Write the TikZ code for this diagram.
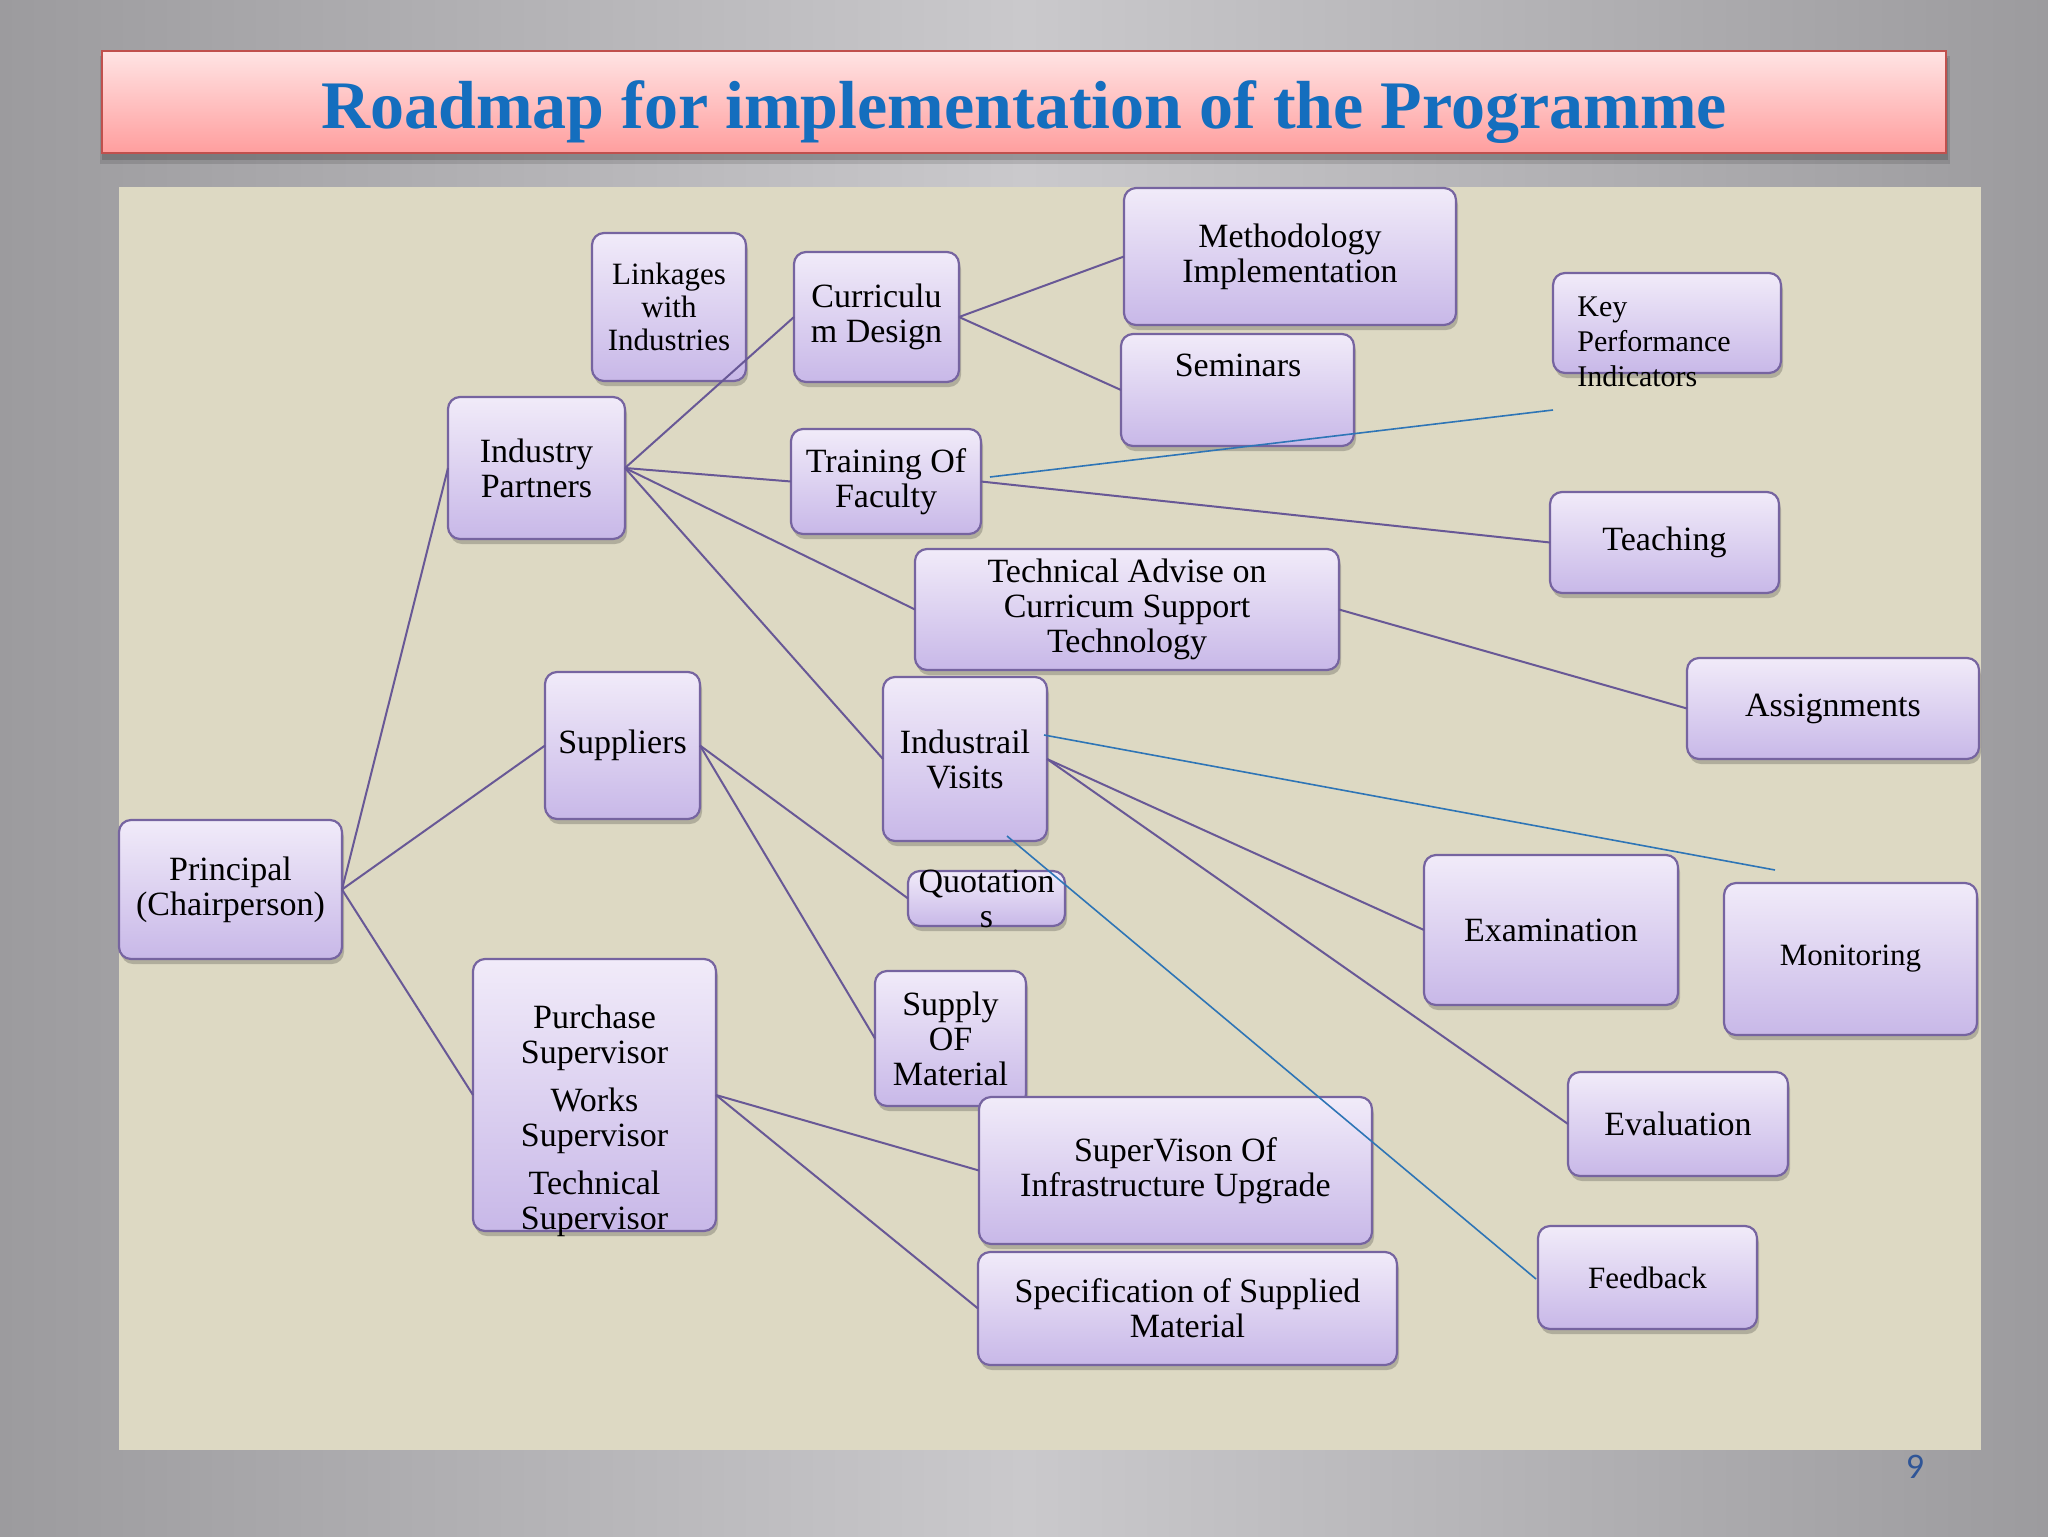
\documentclass[tikz,border=0pt]{standalone}
\usepackage{fontspec}
\setmainfont{Liberation Serif}
\newfontfamily\numfont{Carlito}
\definecolor{bgin}{RGB}{202,201,204}
\definecolor{bgout}{RGB}{156,155,158}
\definecolor{panelc}{RGB}{221,217,195}
\definecolor{ttop}{RGB}{255,228,228}
\definecolor{tbot}{RGB}{255,158,158}
\definecolor{tborder}{RGB}{192,80,77}
\definecolor{tblue}{RGB}{20,110,190}
\definecolor{btop}{RGB}{241,235,249}
\definecolor{bbot}{RGB}{200,184,232}
\definecolor{bborder}{RGB}{118,100,160}
\definecolor{connc}{RGB}{104,88,150}
\definecolor{blinec}{RGB}{46,117,182}
\definecolor{pnumc}{RGB}{47,85,151}
\tikzset{
 pbox/.style={rounded corners=6pt, draw=bborder, line width=1.1pt, top color=btop, bottom color=bbot, inner sep=0pt, outer sep=0pt},
 pshadow/.style={rounded corners=6pt, fill=black, fill opacity=0.2, draw=none},
 ptxt/.style={inner sep=0pt, align=center, font=\fontsize{17}{17.5}\selectfont},
 conline/.style={draw=connc, line width=1pt},
 blueline/.style={draw=blinec, line width=0.8pt},
}
\newcommand\pbxe[5]{%
 \fill[pshadow] ({#2+2},{#3+5}) rectangle ({#4+2},{#5+5});
 \node[pbox, minimum width={(#4-#2)*0.5pt}, minimum height={(#5-#3)*0.5pt}] (#1) at ({(#2+#4)/2},{(#3+#5)/2}) {};}
\newcommand\pbx[7]{%
 \pbxe{#1}{#2}{#3}{#4}{#5}
 \node[ptxt,#6] (#1t) at (#1) {#7};}
\begin{document}
\begin{tikzpicture}[x=0.5pt,y=-0.5pt]
\useasboundingbox (0,0) rectangle (2048,1536);
\shade[left color=bgout, right color=bgout, middle color=bgin] (0,0) rectangle (2048,1536);
% title
\fill[black, opacity=0.12] (100,56) rectangle (1950,164);
\fill[black, opacity=0.15] (102,58) rectangle (1948,160);
\node[draw=tborder, line width=1.3pt, top color=ttop, bottom color=tbot, minimum width=922pt, minimum height=51pt, inner sep=0pt] (titlebox) at (1024,102) {};
\node[font=\bfseries\fontsize{34}{40}\selectfont, text=tblue, inner sep=0pt] (title) at (1024,112) {Roadmap for implementation of the Programme};
% panel
\fill[panelc] (119,187) rectangle (1981,1450);
% boxes
\pbx{prin}{119}{820}{342}{959}{}{Principal\\(Chairperson)}
\pbx{ind}{448}{397}{625}{539}{}{Industry\\Partners}
\pbx{link}{592}{233}{746}{381}{font=\fontsize{15.5}{16.5}\selectfont}{Linkages\\with\\Industries}
\pbx{curr}{794}{252}{959}{382}{}{Curriculu\\m Design}
\pbx{meth}{1124}{188}{1456}{325}{}{Methodology\\Implementation}
\pbxe{sem}{1121}{334}{1354}{446}
\node[ptxt] (semt) at (1238,365) {Seminars};
\pbxe{kpi}{1553}{273}{1781}{373}
\node[ptxt, align=left, anchor=west, font=\fontsize{15}{17.5}\selectfont] (kpit) at (1577,342) {Key\\Performance\\Indicators};
\pbx{train}{791}{429}{981}{534}{}{Training Of\\Faculty}
\pbx{teach}{1550}{492}{1779}{593}{}{Teaching}
\pbx{tech}{915}{549}{1339}{670}{}{Technical Advise on\\Curricum Support\\Technology}
\pbx{assign}{1687}{658}{1979}{759}{}{Assignments}
\pbx{supp}{545}{672}{700}{819}{}{Suppliers}
\pbx{visit}{883}{677}{1047}{841}{}{Industrail\\Visits}
\pbx{quot}{908}{871}{1065}{926}{}{Quotation\\s}
\pbx{exam}{1424}{855}{1678}{1005}{}{Examination}
\pbx{mon}{1724}{883}{1977}{1035}{font=\fontsize{15.5}{17.5}\selectfont}{Monitoring}
\pbxe{purch}{473}{959}{716}{1231}
\node[ptxt] (purcht) at (594.5,1121) {Purchase\\Supervisor\\[6.5pt]Works\\Supervisor\\[6.5pt]Technical\\Supervisor};
\pbx{supmat}{875}{971}{1026}{1106}{}{Supply\\OF\\Material}
\pbx{superv}{979}{1097}{1372}{1244}{}{SuperVison Of\\Infrastructure Upgrade}
\pbx{eval}{1568}{1072}{1788}{1176}{}{Evaluation}
\pbx{spec}{978}{1252}{1397}{1365}{}{Specification of Supplied\\Material}
\pbx{feed}{1538}{1226}{1757}{1329}{font=\fontsize{15.5}{17.5}\selectfont}{Feedback}
% connectors
\draw[conline] (prin.east) -- (ind.west);
\draw[conline] (prin.east) -- (supp.west);
\draw[conline] (prin.east) -- (purch.west);
\draw[conline] (ind.east) -- (curr.west);
\draw[conline] (ind.east) -- (train.west);
\draw[conline] (ind.east) -- (tech.west);
\draw[conline] (ind.east) -- (visit.west);
\draw[conline] (curr.east) -- (meth.west);
\draw[conline] (curr.east) -- (sem.west);
\draw[conline] (train.east) -- (teach.west);
\draw[conline] (tech.east) -- (assign.west);
\draw[conline] (supp.east) -- (quot.west);
\draw[conline] (supp.east) -- (supmat.west);
\draw[conline] (visit.east) -- (exam.west);
\draw[conline] (visit.east) -- (eval.west);
\draw[conline] (purch.east) -- (superv.west);
\draw[conline] (purch.east) -- (spec.west);
% blue lines
\coordinate (b1s) at (990,477);
\coordinate (b1e) at (1553,410);
\coordinate (b2s) at (1044,735);
\coordinate (b2e) at (1775,870);
\coordinate (b3s) at (1007,836);
\coordinate (b3e) at (1536,1279);
\draw[blueline] (b1s) -- (b1e);
\draw[blueline] (b2s) -- (b2e);
\draw[blueline] (b3s) -- (b3e);
% page number
\node[font=\numfont\fontsize{18}{20}\selectfont, text=pnumc, inner sep=0pt] (pnum) at (1915,1467) {9};
\end{tikzpicture}
\end{document}
